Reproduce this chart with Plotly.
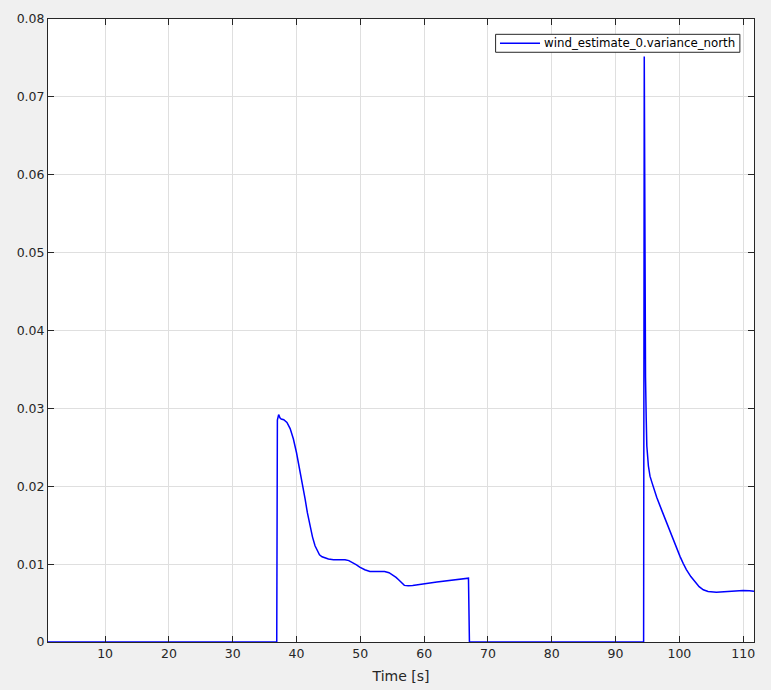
import plotly.graph_objects as go

# Time [s] and values
time_s = [1.05, 36.9, 37.0, 37.2, 37.4, 37.6, 38.0, 38.5, 39.0, 39.5, 40.0, 40.6, 41.0, 41.35,
          41.7, 42.1, 42.5, 42.9, 43.3, 43.6, 44.0, 44.5, 45.0, 45.8, 46.7, 47.6, 48.2,
          48.8, 49.4, 49.9, 50.7, 51.5, 52.6, 53.8, 54.5, 55.1, 55.6, 56.0, 56.5, 56.9,
          57.5, 58.2, 62.0, 66.8, 66.95, 67.1, 94.4, 94.5, 94.55, 94.6, 94.7, 94.8, 94.9,
          95.15, 95.4, 95.7, 96.0, 96.45, 97.2, 98.0, 98.5, 99.0, 99.5, 100.1, 100.6,
          101.1, 101.8, 102.45, 103.1, 103.75, 104.5, 105.8, 107.0, 108.5, 110.0, 111.0, 111.7]
variance_north = [0.0, 0.0, 0.0285, 0.0292, 0.0288, 0.02864, 0.02855, 0.0282, 0.0274, 0.0261,
                  0.0243, 0.0218, 0.0200, 0.01835, 0.0166, 0.0149, 0.0135, 0.01235, 0.0116,
                  0.0112, 0.01095, 0.01075, 0.01065, 0.01055, 0.01055, 0.01055, 0.01045,
                  0.0102, 0.0099, 0.00962, 0.00928, 0.00906, 0.00902, 0.00906, 0.0089,
                  0.0086, 0.0083, 0.0080, 0.00755, 0.00727, 0.00722, 0.00726, 0.0077,
                  0.0082, 0.0082, 0.0, 0.0, 0.0752, 0.06, 0.045, 0.034, 0.029, 0.0252,
                  0.0226, 0.0213, 0.0205, 0.0197, 0.0186, 0.0170, 0.01535, 0.0143,
                  0.0132, 0.0121, 0.0110, 0.0101, 0.0093, 0.0084, 0.0077, 0.0071, 0.0067,
                  0.00648, 0.0064, 0.00645, 0.0066, 0.0066, 0.00658, 0.0065]

series_name = "wind_estimate_0.variance_north"
x_ticks = [10, 20, 30, 40, 50, 60, 70, 80, 90, 100, 110]
y_ticks = [0, 0.01, 0.02, 0.03, 0.04, 0.05, 0.06, 0.07, 0.08]
y_labels = ["0", "0.01", "0.02", "0.03", "0.04", "0.05", "0.06", "0.07", "0.08"]

LINE_COLOR = "#0000ff"
AX_COLOR = "#262626"

fig = go.Figure()
fig.add_trace(go.Scatter(
    x=time_s, y=variance_north, mode="lines",
    name=series_name, showlegend=False,
    line=dict(color=LINE_COLOR, width=1.5),
))

axis_common = dict(
    showline=True, linecolor=AX_COLOR, linewidth=1, mirror="ticks",
    ticks="inside", ticklen=6, tickcolor=AX_COLOR,
    showgrid=True, gridcolor="#dfdfdf", gridwidth=1,
    zeroline=False, automargin=False,
    tickfont=dict(family="DejaVu Sans", size=12.5, color=AX_COLOR),
)

fig.update_xaxes(range=[1.05, 111.7], tickvals=x_ticks,
                 title=dict(text="Time [s]", font=dict(family="DejaVu Sans", size=14, color=AX_COLOR),
                            standoff=11),
                 **axis_common)
fig.update_yaxes(range=[0, 0.08], tickvals=y_ticks, ticktext=y_labels, **axis_common)

# MATLAB-style legend box (drawn in paper coordinates)
fig.add_shape(type="rect", xref="paper", yref="paper",
              x0=0.634, x1=0.980, y0=0.9466, y1=0.9754,
              line=dict(color=AX_COLOR, width=1), fillcolor="#ffffff", layer="above")
fig.add_shape(type="line", xref="paper", yref="paper",
              x0=0.6402, x1=0.6969, y0=0.9612, y1=0.9612,
              line=dict(color=LINE_COLOR, width=1.5), layer="above")
fig.add_annotation(xref="paper", yref="paper", x=0.6995, y=0.9612,
                   xanchor="left", yanchor="middle", showarrow=False,
                   text=series_name,
                   font=dict(family="DejaVu Sans", size=11.8, color="#000000"))

fig.update_layout(
    width=771, height=690,
    margin=dict(l=48, r=17, t=19, b=48),
    paper_bgcolor="#f0f0f0", plot_bgcolor="#ffffff",
    font=dict(family="DejaVu Sans"),
)

fig.write_html("out.html", config={"displayModeBar": False},
               post_script="document.body.style.margin='0';document.body.style.background='#f0f0f0';")
